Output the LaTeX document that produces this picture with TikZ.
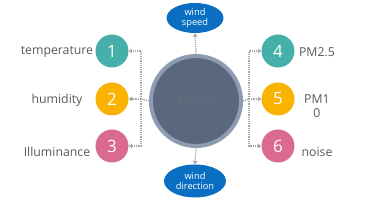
\documentclass[tikz,border=0pt]{standalone}
\usepackage{fontspec}
\setmainfont{Open Sans}
\usetikzlibrary{shapes.geometric,arrows.meta}
\definecolor{teal1}{HTML}{47AFA9}
\definecolor{gold1}{HTML}{F9B300}
\definecolor{pink1}{HTML}{DA6A8E}
\definecolor{blue1}{HTML}{0A6FC2}
\definecolor{ring}{HTML}{8E9CB2}
\definecolor{core}{HTML}{5A677F}
\definecolor{coretxt}{HTML}{6A6E78}
\definecolor{txt}{HTML}{595959}
\definecolor{dots}{HTML}{A6A6A6}
\tikzset{
  num/.style={circle,minimum size=33pt,inner sep=0pt,text=white,font=\fontsize{17}{17}\selectfont},
  lab/.style={text=txt,font=\fontsize{12.3}{14}\selectfont,inner sep=0pt,align=center},
  oval/.style={ellipse,fill=blue1,text=white,inner sep=0pt,align=center,font=\fontsize{9.3}{10.5}\selectfont},
  conn/.style={draw=dots,line width=1.3pt,dash pattern=on 1.2pt off 1pt,-{Triangle[length=3.5pt,width=4.5pt]}},
  link/.style={draw=dots,line width=1.3pt,dash pattern=on 1.2pt off 1pt}
}
\begin{document}
\begin{tikzpicture}[x=1pt,y=-1pt]
\useasboundingbox (0,0) rectangle (376,200);
\node[circle,minimum size=90pt,inner sep=0pt,fill=core,draw=ring,line width=4pt,text=coretxt,font=\fontsize{12}{12}\selectfont] (c) at (196,101) {sensor};
\node[oval,minimum width=57pt,minimum height=30pt] (ws) at (195,18) {wind\\speed};
\node[oval,minimum width=62pt,minimum height=33pt] (wd) at (195,181) {wind\\direction};
\node[num,fill=teal1] (n1) at (112,51) {1};
\node[num,fill=gold1] (n2) at (112,99) {2};
\node[num,fill=pink1] (n3) at (112,146) {3};
\node[num,fill=teal1] (n4) at (278,51) {4};
\node[num,fill=gold1] (n5) at (278,99) {5};
\node[num,fill=pink1] (n6) at (278,146) {6};
\node[lab] (l1) at (57,52) {temperature};
\node[lab] (l2) at (57,100) {humidity};
\node[lab] (l3) at (57,152) {Illuminance};
\node[lab] (l4) at (317,52) {PM2.5};
\node[lab] (l5) at (317,106) {PM1\\0};
\node[lab] (l6) at (317,152) {noise};
\coordinate (jl) at (141,99);
\coordinate (jr) at (249,99);
\draw[link] (c.west) -- (jl);
\draw[conn] (jl) |- (n1.east);
\draw[conn] (jl) -- (n2.east);
\draw[conn] (jl) |- (n3.east);
\draw[link] (c.east) -- (jr);
\draw[conn] (jr) |- (n4.west);
\draw[conn] (jr) -- (n5.west);
\draw[conn] (jr) |- (n6.west);
\draw[conn] (c.north) -- (ws.south);
\draw[conn] (c.south) -- (wd.north);
\end{tikzpicture}
\end{document}
